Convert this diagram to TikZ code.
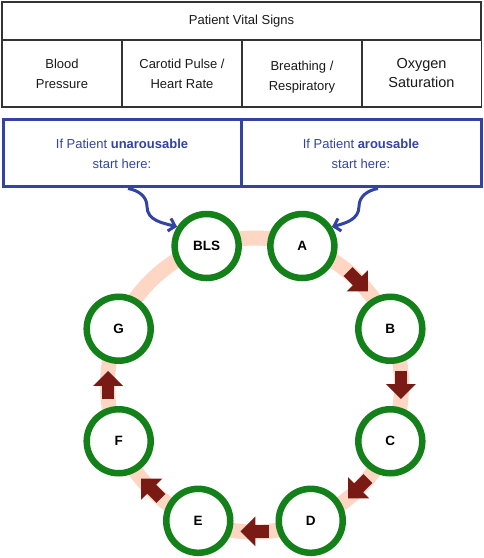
\documentclass[tikz,border=0pt]{standalone}
\usepackage{fontspec}
\setmainfont{Liberation Sans}
\usetikzlibrary{arrows.meta,calc}
\definecolor{cueblue}{HTML}{3343A3}
\definecolor{stagegreen}{HTML}{13801A}
\definecolor{ringpeach}{HTML}{FDD6C4}
\definecolor{arrowred}{HTML}{7A1A14}
\tikzset{
	cell/.style={draw=black!80, line width=1.2pt, align=center, text=black!90, font=\fontsize{13}{20}\selectfont, minimum height=67pt, minimum width=120pt, inner sep=0pt},
	hint/.style={draw=cueblue, line width=3pt, align=center, text=cueblue, font=\fontsize{13}{20}\selectfont, minimum height=67pt, inner sep=0pt},
	stage/.style={circle, draw=stagegreen, line width=6.5pt, fill=white, minimum size=64pt, inner sep=0pt, font=\fontsize{13.5}{14}\selectfont\bfseries},
	cycarrow/.style={arrowred, line width=12.5pt, -{Triangle[width=29pt,length=15pt]}},
	cue/.style={cueblue, line width=3pt, -{Straight Barb[length=6pt,width=13pt]}}
}
\begin{document}
\begin{tikzpicture}[x=1pt,y=1pt]
	\useasboundingbox (0,0) rectangle (483,558);
	% vital signs table
	\node[cell, minimum width=479pt, minimum height=38pt] (vital) at (241.5,537) {Patient Vital Signs};
	\node[cell] (bp) at (62,484.5) {Blood\\Pressure};
	\node[cell] (pulse) at (182,484.5) {Carotid Pulse /\\Heart Rate};
	\node[cell] (breath) at (302,484.5) {};
	\node[cell, draw=none] (breathtxt) at (302,480.5) {Breathing /\\Respiratory};
	\node[cell, font=\fontsize{14.5}{19}\selectfont] (oxy) at (421.5,484.5) {Oxygen\\Saturation};
	% where to start
	\node[hint, minimum width=238pt] (unar) at (122,404.5) {If Patient \textbf{unarousable}\\start here:};
	\node[hint, minimum width=240pt] (arou) at (361,404.5) {If Patient \textbf{arousable}\\start here:};
	% cycle
	\coordinate (ctr) at (254.5,173);
	\draw[ringpeach, line width=15pt] (ctr) circle (147);
	\node[stage] (bls) at ([shift={(109:147)}]ctr) {BLS};
	\node[stage] (a) at ([shift={(71:147)}]ctr) {A};
	\node[stage] (b) at ([shift={(22.5:147)}]ctr) {B};
	\node[stage] (c) at ([shift={(-22.5:147)}]ctr) {C};
	\node[stage] (d) at ([shift={(-67.5:147)}]ctr) {D};
	\node[stage] (e) at ([shift={(-112.5:147)}]ctr) {E};
	\node[stage] (f) at ([shift={(-157.5:147)}]ctr) {F};
	\node[stage] (g) at ([shift={(157.5:147)}]ctr) {G};
	\draw[cycarrow] ([shift={(50.5:147)}]ctr) -- ([shift={(39.5:147)}]ctr);
	\draw[cycarrow] ([shift={(5.5:147)}]ctr) -- ([shift={(-5.5:147)}]ctr);
	\draw[cycarrow] ([shift={(-39.5:147)}]ctr) -- ([shift={(-50.5:147)}]ctr);
	\draw[cycarrow] ([shift={(-84.5:147)}]ctr) -- ([shift={(-95.5:147)}]ctr);
	\draw[cycarrow] ([shift={(-129.5:147)}]ctr) -- ([shift={(-140.5:147)}]ctr);
	\draw[cycarrow] ([shift={(185.5:147)}]ctr) -- ([shift={(174.5:147)}]ctr);
	% entry arrows
	\draw[cue] ($(unar.south)+(6,0)$) to[out=-10,in=90] ++(19,-18) to[out=-90,in=165] (bls.147);
	\draw[cue] ($(arou.south)+(17,0)$) to[out=190,in=90] ++(-19,-18) to[out=-90,in=15] (a.33);
\end{tikzpicture}
\end{document}
